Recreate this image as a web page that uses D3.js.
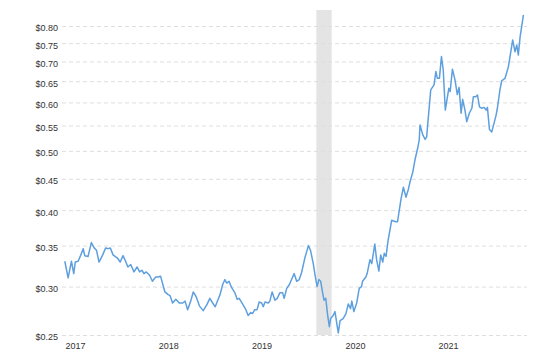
<!DOCTYPE html>
<html>
<head>
<meta charset="utf-8">
<script src="https://cdn.jsdelivr.net/npm/d3@7"></script>
<style>
  body { margin: 0; background: #fff; }
  svg { display: block; font-family: "DejaVu Sans", Verdana, sans-serif; }
</style>
</head>
<body>
<svg></svg>
<script>
const dates = [
  "2017-05-22","2017-06-04","2017-06-17","2017-06-26","2017-07-02","2017-07-13","2017-07-24","2017-08-02",
  "2017-08-08","2017-08-21","2017-09-03","2017-09-14","2017-09-23","2017-10-03","2017-10-16","2017-10-29",
  "2017-11-08","2017-11-16","2017-11-27","2017-12-14","2017-12-25","2018-01-05","2018-01-15","2018-01-24",
  "2018-02-04","2018-02-17","2018-03-01","2018-03-11","2018-03-20","2018-03-28","2018-04-06","2018-04-19",
  "2018-04-30","2018-05-13","2018-05-22","2018-06-01","2018-06-18","2018-07-01","2018-07-08","2018-07-18",
  "2018-07-31","2018-08-13","2018-08-27","2018-09-05","2018-09-15","2018-09-27","2018-10-07","2018-10-18",
  "2018-10-31","2018-11-15","2018-11-29","2018-12-11","2018-12-22","2019-01-01","2019-01-11","2019-01-20",
  "2019-01-30","2019-02-08","2019-02-15","2019-02-24","2019-03-06","2019-03-19","2019-03-28","2019-04-05",
  "2019-04-18","2019-05-01","2019-05-10","2019-05-20","2019-05-27","2019-06-05","2019-06-14","2019-06-22",
  "2019-07-02","2019-07-08","2019-07-15","2019-07-28","2019-08-03","2019-08-12","2019-08-23","2019-09-01",
  "2019-09-11","2019-09-22","2019-09-28","2019-10-08","2019-10-18","2019-10-27","2019-11-06","2019-11-16",
  "2019-11-26","2019-12-05","2019-12-18","2020-01-01","2020-01-09","2020-01-20","2020-01-26","2020-02-04",
  "2020-02-11","2020-02-18","2020-02-25","2020-03-02","2020-03-09","2020-03-16","2020-03-23","2020-03-28",
  "2020-04-07","2020-04-14","2020-04-23","2020-04-27","2020-05-04","2020-05-16","2020-05-27","2020-06-05",
  "2020-06-14","2020-06-19","2020-06-27","2020-07-08","2020-07-18","2020-07-27","2020-07-31","2020-08-13",
  "2020-08-18","2020-08-29","2020-09-05","2020-09-17","2020-09-24","2020-10-03","2020-10-10","2020-10-18",
  "2020-10-24","2020-10-31","2020-11-08","2020-11-22","2020-12-08","2020-12-15","2020-12-29","2021-01-07",
  "2021-01-17","2021-01-26","2021-02-02","2021-02-13","2021-02-22","2021-03-03","2021-03-10","2021-03-13",
  "2021-03-24","2021-04-02","2021-04-08","2021-04-24","2021-05-07","2021-05-14","2021-05-20","2021-05-28",
  "2021-06-05","2021-06-12","2021-06-20","2021-07-04","2021-07-09","2021-07-18","2021-07-28","2021-08-06",
  "2021-08-13","2021-08-21","2021-08-27","2021-09-05","2021-09-12","2021-09-22","2021-10-02","2021-10-08",
  "2021-10-17","2021-10-24","2021-11-01","2021-11-10","2021-11-19","2021-11-27","2021-12-02","2021-12-10",
  "2021-12-19","2021-12-28","2022-01-05","2022-01-10","2022-01-20","2022-01-27","2022-02-09","2022-02-22",
  "2022-03-11","2022-03-20","2022-03-27","2022-04-02","2022-04-09","2022-04-22"
];

const prices = [
  0.330,0.310,0.330,0.315,0.329,0.330,0.338,0.346,
  0.337,0.336,0.354,0.347,0.344,0.329,0.337,0.347,
  0.346,0.347,0.338,0.334,0.329,0.337,0.330,0.323,
  0.326,0.317,0.323,0.317,0.319,0.315,0.317,0.313,
  0.306,0.311,0.311,0.312,0.294,0.291,0.290,0.282,
  0.286,0.282,0.282,0.284,0.275,0.284,0.294,0.289,
  0.279,0.274,0.280,0.287,0.282,0.278,0.285,0.291,
  0.302,0.308,0.304,0.306,0.299,0.293,0.286,0.287,
  0.281,0.275,0.269,0.272,0.271,0.275,0.275,0.283,
  0.282,0.278,0.283,0.282,0.284,0.294,0.285,0.287,
  0.293,0.293,0.287,0.298,0.302,0.308,0.315,0.306,
  0.308,0.316,0.334,0.350,0.344,0.327,0.315,0.300,
  0.308,0.306,0.294,0.285,0.287,0.270,0.258,0.266,
  0.269,0.273,0.258,0.252,0.264,0.266,0.271,0.281,
  0.276,0.284,0.273,0.282,0.298,0.300,0.306,0.311,
  0.315,0.332,0.327,0.352,0.332,0.318,0.338,0.329,
  0.340,0.336,0.357,0.385,0.383,0.383,0.418,0.436,
  0.420,0.432,0.445,0.462,0.485,0.503,0.521,0.551,
  0.531,0.522,0.527,0.629,0.641,0.674,0.657,0.657,
  0.713,0.678,0.583,0.633,0.625,0.680,0.653,0.618,
  0.635,0.576,0.607,0.583,0.558,0.576,0.587,0.613,
  0.613,0.617,0.590,0.587,0.589,0.583,0.589,0.542,
  0.537,0.555,0.572,0.587,0.629,0.651,0.657,0.686,
  0.759,0.726,0.745,0.717,0.768,0.834
];

const yTicks = [0.25, 0.30, 0.35, 0.40, 0.45, 0.50, 0.55, 0.60, 0.65, 0.70, 0.75, 0.80];
const years = [2017, 2018, 2019, 2020, 2021];
const recession = ["2020-02-01", "2020-04-01"];

const width = 560;
const height = 353;
const plotLeft = 62;
const plotRight = 527;
const plotTop = 26;
const plotBottom = 335;

const parse = d3.timeParse("%Y-%m-%d");
const data = dates.map((d, i) => ({ date: parse(d), value: prices[i] }));

const svg = d3.select("svg")
    .attr("width", width)
    .attr("height", height);

const xScale = d3.scaleTime()
    .domain([parse("2017-05-11"), parse("2022-05-06")])
    .range([plotLeft, plotRight]);

const yScale = d3.scaleLog()
    .domain([0.25, 0.80])
    .range([plotBottom, plotTop]);

// recession shading
svg.append("rect")
    .attr("x", xScale(parse(recession[0])))
    .attr("y", 10)
    .attr("width", xScale(parse(recession[1])) - xScale(parse(recession[0])))
    .attr("height", plotBottom - 10)
    .attr("fill", "#e4e4e4");

// y axis with dashed grid lines
const yAxis = d3.axisLeft(yScale)
    .tickValues(yTicks)
    .tickFormat(d3.format("$.2f"))
    .tickSize(-(plotRight - plotLeft))
    .tickPadding(4);

svg.append("g")
    .attr("transform", "translate(" + plotLeft + ",0)")
    .call(yAxis)
    .call(g => g.select(".domain").remove())
    .call(g => g.selectAll(".tick line")
        .attr("stroke", "#dedede")
        .attr("stroke-dasharray", "4,3"))
    .call(g => g.selectAll(".tick text")
        .attr("fill", "#333")
        .attr("font-size", 9)
        .attr("y", 2));

// year labels sit in the middle of each year
const xAxis = d3.axisBottom(xScale)
    .tickValues(years.map(y => new Date(y, 6, 1)))
    .tickFormat(d3.timeFormat("%Y"))
    .tickSize(0)
    .tickPadding(8);

svg.append("g")
    .attr("transform", "translate(0," + plotBottom + ")")
    .call(xAxis)
    .call(g => g.select(".domain").remove())
    .call(g => g.selectAll(".tick text")
        .attr("fill", "#333")
        .attr("font-size", 9));

const line = d3.line()
    .x(d => xScale(d.date))
    .y(d => yScale(d.value));

svg.append("path")
    .datum(data)
    .attr("fill", "none")
    .attr("stroke", "#5e9fdf")
    .attr("stroke-width", 1.5)
    .attr("stroke-linejoin", "round")
    .attr("d", line);
</script>
</body>
</html>
